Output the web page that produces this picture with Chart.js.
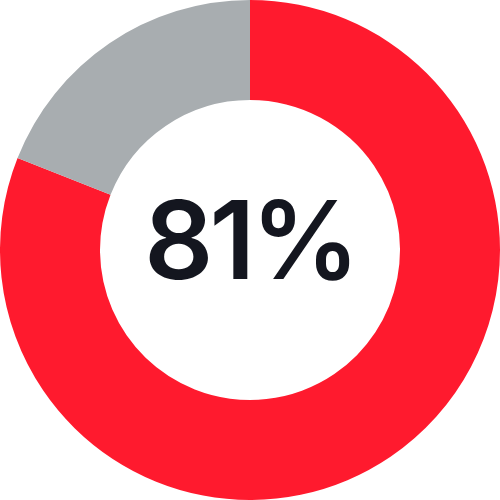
<!DOCTYPE html>
<html>
<head>
<meta charset="utf-8">
<script src="https://cdn.jsdelivr.net/npm/chart.js@4/dist/chart.umd.min.js"></script>
<style>
  html, body { margin: 0; padding: 0; background: #fff; }
  #wrap { width: 500px; height: 500px; position: relative; }
</style>
</head>
<body>
<div id="wrap"><canvas id="donut"></canvas></div>
<script>
const labels = ["Yes", "No"];
const values = [81, 19];
const colors = ["#ff1a2e", "#a8adb0"];
const centerText = "81%";

// chu o giua
const centerLabel = {
  id: "centerLabel",
  afterDraw(chart) {
    const { ctx, chartArea } = chart;
    const cx = (chartArea.left + chartArea.right) / 2;
    const cy = (chartArea.top + chartArea.bottom) / 2;
    ctx.save();
    ctx.font = "600 108px Inter";
    ctx.letterSpacing = "-4px";
    ctx.fillStyle = "#14161f";
    ctx.textAlign = "center";
    ctx.textBaseline = "middle";
    ctx.fillText(centerText, cx, cy - 3);
    ctx.restore();
  }
};

new Chart(document.getElementById("donut"), {
  type: "doughnut",
  data: {
    labels: labels,
    datasets: [{
      data: values,
      backgroundColor: colors,
      borderWidth: 0
    }]
  },
  options: {
    responsive: true,
    maintainAspectRatio: false,
    animation: false,
    cutout: "60%",
    layout: { padding: 0 },
    plugins: { legend: { display: false }, tooltip: { enabled: false } }
  },
  plugins: [centerLabel]
});
</script>
</body>
</html>
